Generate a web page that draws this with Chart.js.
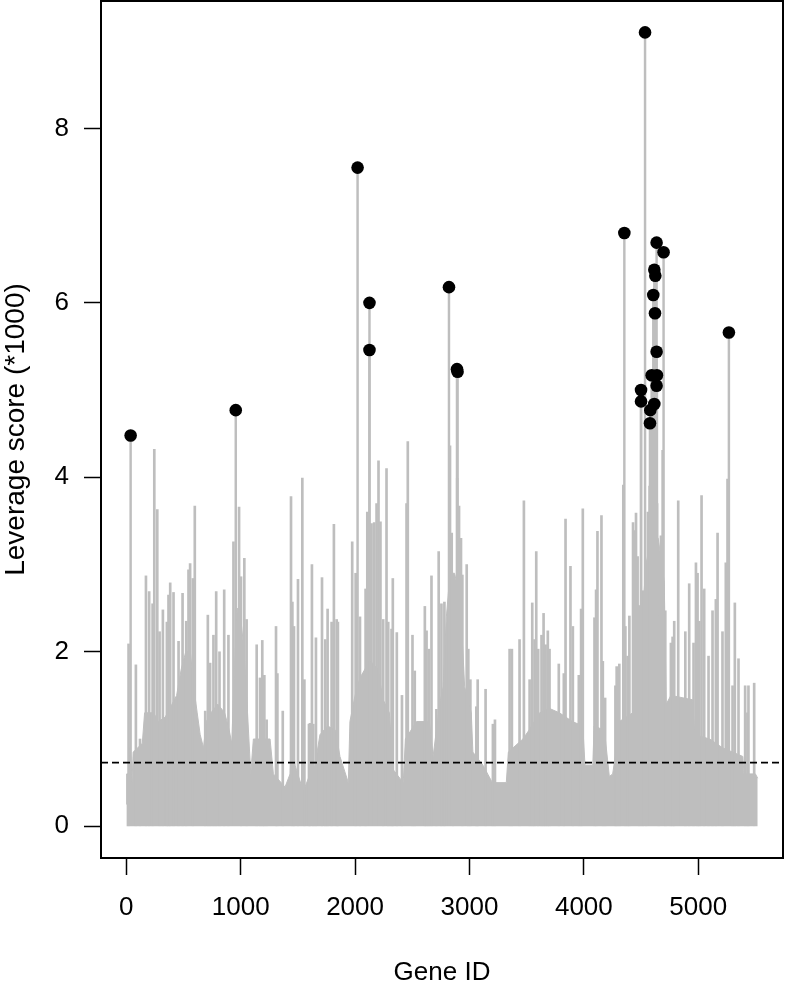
<!DOCTYPE html>
<html>
<head>
<meta charset="utf-8">
<script src="https://cdn.jsdelivr.net/npm/chart.js@4.4.1/dist/chart.umd.min.js"></script>
<style>
  body { margin: 0; background: #fff; }
  canvas { display: block; }
</style>
</head>
<body>
<canvas id="leverage" width="785" height="985"></canvas>
<script>
// axis ticks and cut-off line
const xTicks = [0, 1000, 2000, 3000, 4000, 5000];
const yTicks = [0, 2, 4, 6, 8];
const threshold = 0.73;

// dense body of the profile (rough envelope of the packed gray bars)
const massGenes = [1, 3, 20, 30, 40, 50, 60, 100, 140, 160, 240, 280, 340, 400, 440, 480, 520, 560, 590, 620, 646, 675, 700, 740, 800, 860, 900, 922, 945, 970, 1000, 1030, 1060, 1088, 1111, 1160, 1257,
  1286, 1388, 1432, 1450, 1475, 1548, 1592, 1650, 1693, 1760, 1830, 1868, 1941, 1955, 2000, 2042, 2130, 2200, 2246, 2300, 2333, 2421, 2440, 2537, 2650, 2682,
  2740, 2770, 2798, 2830, 2870, 2920, 2958, 3016, 3030, 3118, 3200, 3322, 3340, 3467, 3520, 3613, 3700, 3787, 3900, 3991, 4010, 4078, 4090, 4180,
  4223, 4252, 4270, 4310, 4427, 4440, 4500, 4543, 4600, 4650, 4703, 4720, 4761, 4950, 4970, 5100, 5212, 5390, 5400, 5500, 5520];
const massValues = [0.25, 0.6, 0.6, 0.9, 0.8, 0.5, 0.85, 0.9, 0.95, 1.3, 1.3, 1.2, 1.25, 1.4, 1.5, 1.8, 2.0, 2.0, 1.6, 1.3, 1.05, 0.9, 1.2, 1.3, 1.4, 1.3, 1.1, 0.95, 1.8, 2.5, 2.4, 2.0, 1.3, 0.6, 1.0, 1.0, 1.0,
  0.6, 0.45, 0.6, 1.1, 0.7, 0.4, 0.55, 0.7, 1.05, 1.15, 1.1, 0.8, 0.5, 1.2, 1.5, 1.7, 1.9, 1.8, 1.45, 1.3, 0.65, 0.5, 1.0, 1.2, 1.2, 0.8,
  1.4, 1.6, 2.4, 2.9, 2.9, 2.6, 1.6, 1.3, 0.85, 0.7, 0.5, 0.5, 0.85, 1.0, 1.1, 1.3, 1.35, 1.3, 1.2, 1.15, 0.7, 0.7, 1.15, 1.1,
  0.57, 0.6, 0.76, 1.2, 1.3, 1.8, 2.2, 3.0, 3.4, 3.3, 2.8, 1.4, 1.5, 1.45, 1.05, 1.0, 0.9, 0.8, 0.6, 0.6, 0.55];

// taller single gray spikes
const spikeGenes = [20, 84, 120, 172, 200, 230, 245, 271, 291, 320, 355, 369, 384, 413, 457, 492, 524, 544, 558, 582, 599, 690, 713, 733, 762, 786, 815, 856, 893, 937, 986, 1003, 1032, 1052, 1140, 1169, 1189, 1207, 1227,
  1309, 1321, 1368, 1440, 1452, 1466, 1501, 1539, 1557, 1597, 1606, 1623, 1635, 1658, 1711, 1740, 1760, 1795, 1815, 1839, 1850, 1975, 2005, 2043, 2092, 2107, 2144, 2167, 2188, 2205, 2222, 2246, 2275, 2290, 2319, 2330, 2365, 2410, 2450, 2461, 2502, 2522, 2610, 2625, 2645, 2668, 2711, 2731,
  2755, 2781, 2830, 2845, 2856, 2893, 2909, 2926, 2938, 2976, 2990, 3008, 3060, 3072, 3141, 3205, 3223, 3351, 3371, 3438, 3476, 3526, 3549, 3569, 3584, 3601, 3630, 3648, 3665, 3685, 3700, 3781, 3825, 3840, 3883, 3904, 3956, 3976, 3991, 4093, 4107, 4119, 4154, 4166, 4186,
  4276, 4287, 4310, 4345, 4363, 4383, 4398, 4430, 4441, 4456, 4470, 4485, 4515, 4545, 4560, 4575, 4600, 4615, 4640, 4654, 4674, 4689, 4712, 4761, 4776, 4790, 4825, 4887, 4921, 4959, 4980, 4994, 5009, 5029, 5052, 5090, 5125, 5154, 5169, 5212, 5241, 5256, 5300, 5320, 5352, 5410, 5430, 5439, 5489];
const spikeValues = [2.09, 1.85, 1.0, 2.87, 2.69, 2.55, 4.32, 3.63, 2.23, 2.48, 2.34, 2.65, 2.79, 2.68, 2.12, 2.67, 2.35, 2.94, 3.01, 2.84, 3.67, 1.32, 2.42, 1.87, 2.19, 2.69, 2.0, 2.71, 2.19, 3.26, 3.66, 2.86, 3.07, 2.37, 2.08, 1.70, 2.13, 1.73, 1.22,
  2.29, 1.75, 1.32, 3.78, 2.57, 2.29, 2.83, 3.99, 1.68, 1.17, 1.18, 3.0, 1.17, 2.16, 2.85, 2.14, 2.49, 2.34, 3.46, 2.37, 2.34, 3.26, 2.9, 2.4, 2.72, 3.6, 3.47, 3.48, 3.7, 4.19, 3.49, 2.37, 4.1, 2.34, 2.26, 2.84, 2.22, 1.5, 3.7, 4.41, 2.19, 1.78, 2.52, 2.24, 2.03, 2.87, 1.34, 3.15,
  2.55, 2.57, 4.36, 3.36, 2.32, 3.99, 3.67, 3.3, 2.88, 3.0, 2.03, 1.68, 1.37, 1.68, 1.57, 1.17, 1.22, 2.03, 2.03, 2.14, 3.73, 1.68, 2.56, 2.14, 3.15, 2.03, 2.19, 2.44, 2.08, 2.24, 2.03, 1.86, 1.75, 3.52, 2.98, 2.29, 1.73, 2.49, 3.64, 2.39, 2.71, 3.38, 3.56, 1.89, 1.47,
  1.61, 1.83, 1.86, 3.91, 2.29, 1.95, 2.41, 3.48, 3.39, 3.59, 3.09, 2.53, 2.7, 2.8, 3.6, 3.9, 3.8, 3.9, 3.7, 2.41, 3.33, 4.31, 2.47, 2.1, 2.17, 2.35, 3.73, 2.23, 2.78, 2.1, 3.02, 2.9, 2.35, 3.79, 2.72, 1.95, 2.47, 2.6, 3.36, 2.23, 3.02, 3.98, 1.61, 2.56, 1.92, 1.61, 1.3, 1.61, 1.64];

// genes flagged above the cut-off (black dots)
const hitGenes = [38, 957, 2022, 2126, 2126, 2821, 2891, 2896, 4354, 4535, 4636, 4697, 4616, 4625, 4607, 4622, 4636, 4593, 4639, 4636, 4500, 4500, 4616, 4581, 4578, 5268];
const hitValues = [4.48, 4.77, 7.55, 6.0, 5.46, 6.18, 5.24, 5.21, 6.80, 9.10, 6.69, 6.58, 6.38, 6.31, 6.09, 5.88, 5.44, 5.17, 5.17, 5.05, 5.00, 4.87, 4.84, 4.77, 4.62, 5.66];

const toXY = (xs, ys) => xs.map((x, i) => ({ x: x, y: ys[i] }));
const gray = '#bebebe';
const family = '"Liberation Sans", Arial, sans-serif';
const font = { family: family, size: 26 };
const xMin = -221, xMax = 5741;

Chart.defaults.font.family = family;
Chart.defaults.color = '#000';

// fixed plot region: no extra room reserved for edge labels
const fixBox = (size) => (s) => {
  if (s.isHorizontal()) s.height = size; else s.width = size;
  s.paddingTop = 0; s.paddingBottom = 0; s.paddingLeft = 0; s.paddingRight = 0;
};

// R-style box round the plot region
const boxPlugin = {
  id: 'box',
  afterDatasetsDraw(chart) {
    const { ctx, chartArea: a } = chart;
    ctx.save();
    ctx.strokeStyle = '#000';
    ctx.lineWidth = 2;
    ctx.strokeRect(a.left, a.top, a.right - a.left, a.bottom - a.top);
    ctx.restore();
  }
};

new Chart(document.getElementById('leverage'), {
  type: 'bar',
  data: {
    datasets: [
      {
        type: 'scatter',
        data: toXY(hitGenes, hitValues),
        backgroundColor: '#000',
        borderWidth: 0,
        pointRadius: 6.3,
        order: 0
      },
      {
        type: 'line',
        data: [{ x: xMin, y: threshold }, { x: xMax, y: threshold }],
        borderColor: '#000',
        borderWidth: 1.8,
        borderDash: [7, 4],
        pointRadius: 0,
        fill: false,
        order: 1
      },
      {
        data: toXY(hitGenes, hitValues),
        backgroundColor: gray,
        barThickness: 1.8,
        grouped: false,
        order: 2
      },
      {
        data: toXY(spikeGenes, spikeValues),
        backgroundColor: gray,
        barThickness: 2,
        grouped: false,
        order: 3
      },
      {
        type: 'line',
        data: toXY(massGenes, massValues),
        backgroundColor: gray,
        borderColor: gray,
        borderWidth: 1,
        pointRadius: 0,
        tension: 0,
        fill: 'origin',
        order: 4
      }
    ]
  },
  options: {
    responsive: false,
    animation: false,
    layout: { autoPadding: false, padding: { top: 1, right: 2, left: 0, bottom: 0 } },
    plugins: { legend: { display: false }, tooltip: { enabled: false } },
    scales: {
      x: {
        type: 'linear',
        min: xMin,
        max: xMax,
        offset: false,
        afterFit: fixBox(127),
        afterBuildTicks: (s) => { s.ticks = xTicks.map(v => ({ value: v })); },
        ticks: { font: font, color: '#000', padding: 17, maxRotation: 0, autoSkip: false, callback: (v) => String(v) },
        grid: { offset: false, drawOnChartArea: false, tickLength: 17, tickColor: '#000', tickWidth: 1.5 },
        border: { display: false },
        title: { display: true, text: 'Gene ID', font: font, color: '#000', padding: { top: 0, bottom: -3 } }
      },
      y: {
        min: -0.364,
        max: 9.46,
        afterFit: fixBox(101),
        afterBuildTicks: (s) => { s.ticks = yTicks.map(v => ({ value: v })); },
        ticks: { font: font, color: '#000', padding: 15, callback: (v) => String(v) },
        grid: { drawOnChartArea: false, tickLength: 17, tickColor: '#000', tickWidth: 1.5 },
        border: { display: false },
        title: { display: true, text: 'Leverage score (*1000)', font: { family: family, size: 28 }, color: '#000', padding: { top: -1, bottom: 0 } }
      }
    }
  },
  plugins: [boxPlugin]
});
</script>
</body>
</html>
